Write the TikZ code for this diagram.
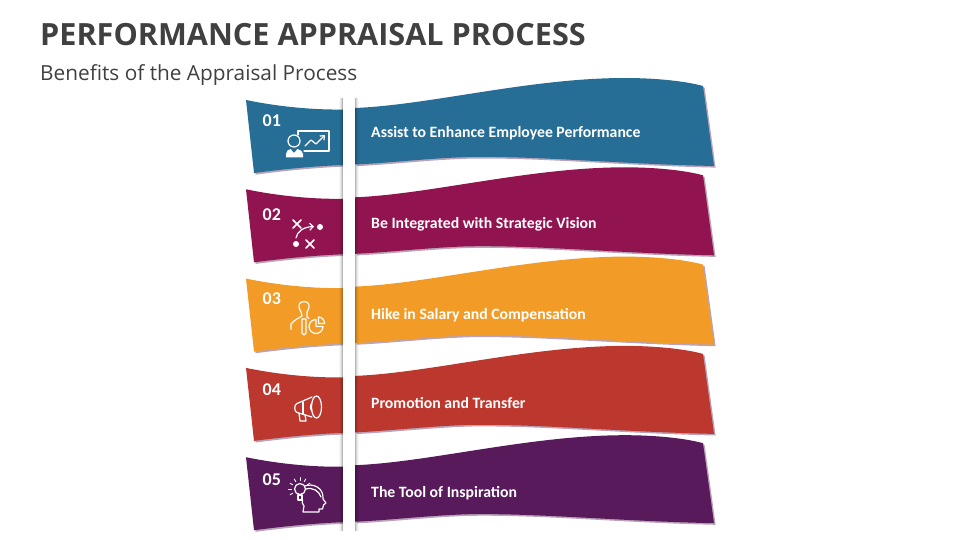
\documentclass[tikz,border=0pt]{standalone}
\usepackage{fontspec}
\setmainfont{Open Sans}
\newfontfamily\barfont{Carlito}
\usetikzlibrary{arrows.meta}
\definecolor{bluebar}{HTML}{266E96}
\definecolor{plumbar}{HTML}{911450}
\definecolor{orangebar}{HTML}{F29C27}
\definecolor{redbar}{HTML}{BC382E}
\definecolor{purplebar}{HTML}{581A5A}
\definecolor{barshade}{HTML}{B9A3B8}
\definecolor{titlegray}{HTML}{404040}
\tikzset{
  bartext/.style={
    anchor=base west,
    inner sep=0pt,
    text=white,
    font=\barfont\bfseries\fontsize{15.75}{18}\selectfont
  },
  barnum/.style={
    anchor=base west,
    inner sep=0pt,
    text=white,
    font=\barfont\bfseries\fontsize{18}{20}\selectfont
  },
  iconline/.style={
    draw=white,
    line width=1.2pt,
    line cap=round,
    line join=round
  },
  ribbon/.pic={
    \fill[barshade,shift={(1.6,1.6)}] (246,100) .. controls (275,106) and (310,110) .. (343,109.5) -- (343,165) .. controls (315,166) and (285,169) .. (254,173) -- cycle;
    \fill[barshade,shift={(1.6,1.6)}] (355,108) .. controls (430,105) and (530,78) .. (625,78) .. controls (655,78) and (685,81) .. (703,86) -- (714,166) .. controls (620,164) and (540,156) .. (470,157) .. controls (430,158) and (390,163) .. (355,164.5) -- cycle;
    \fill[#1] (246,100) .. controls (275,106) and (310,110) .. (343,109.5) -- (343,165) .. controls (315,166) and (285,169) .. (254,173) -- cycle;
    \fill[#1] (355,108) .. controls (430,105) and (530,78) .. (625,78) .. controls (655,78) and (685,81) .. (703,86) -- (714,166) .. controls (620,164) and (540,156) .. (470,157) .. controls (430,158) and (390,163) .. (355,164.5) -- cycle;
  }
}

\begin{document}
\begin{tikzpicture}[x=1pt,y=-1pt]
    \useasboundingbox (0,0) rectangle (960,540);
    \fill[white] (0,0) rectangle (960,540);

    \node[anchor=base west,inner sep=0pt,text=titlegray,font=\bfseries\fontsize{30.6}{36}\selectfont] (title) at (40,45.5) {PERFORMANCE APPRAISAL PROCESS};
    \node[anchor=base west,inner sep=0pt,text=titlegray,font=\fontsize{20.8}{24}\selectfont] (subtitle) at (40,80.5) {Benefits of the Appraisal Process};

    \pic (rowa) at (0,0) {ribbon=bluebar};
    \pic (rowb) at (0,89.3) {ribbon=plumbar};
    \pic (rowc) at (0,178.6) {ribbon=orangebar};
    \pic (rowd) at (0,267.9) {ribbon=redbar};
    \pic (rowe) at (0,357.2) {ribbon=purplebar};

    % white spine with soft edges
    \foreach \d/\o in {0/0.28,1/0.16,2/0.08,3/0.03}{
      \fill[black,opacity=\o] (343-\d-1,98) rectangle (343-\d,531);
      \fill[black,opacity=\o] (355+\d,98) rectangle (355+\d+1,531);
    }
    \fill[white] (343,96) rectangle (355,533);

    \node[barnum] (numa) at (262.5,127) {01};
    \node[barnum] (numb) at (262.5,220) {02};
    \node[barnum] (numc) at (262.5,304) {03};
    \node[barnum] (numd) at (262.5,395) {04};
    \node[barnum] (nume) at (262.5,485) {05};

    \node[bartext] (texta) at (371,138) {Assist to Enhance Employee Performance};
    \node[bartext] (textb) at (371,228) {Be Integrated with Strategic Vision};
    \node[bartext] (textc) at (371,319) {Hike in Salary and Compensation};
    \node[bartext] (textd) at (371,408) {Promotion and Transfer};
    \node[bartext] (texte) at (371,497) {The Tool of Inspiration};

    % icon 01
    \draw[iconline] (298,135) -- (298,131) -- (329,131) -- (329,151) -- (304,151);
    \draw[iconline,-{Straight Barb[length=3.5pt,width=6pt]}] (305,146) -- (311,140) -- (316,144) -- (325,135);
    \draw[iconline] (294,141) circle (6);
    \fill[white] (286,157.5) -- (286,154) .. controls (286,151) and (288,150) .. (290.5,149) -- (294,153) -- (297.5,149) .. controls (300,150) and (303,151) .. (303,154) -- (303,157.5) -- cycle;

    % icon 02
    \draw[iconline,line width=1.7pt] (293,220) -- (301,228) (293,228) -- (301,220);
    \draw[iconline,line width=1.7pt] (306,240) -- (314,248) (306,248) -- (314,240);
    \fill[white] (320,227) circle (3);
    \fill[white] (296,244) circle (3);
    \draw[iconline,-{Straight Barb[length=3.5pt,width=7pt]}] (296,238) .. controls (297,231) and (304,227) .. (314,226.5);

    % icon 03
    \draw[iconline] (291,329.5) -- (291,324) .. controls (294,320) and (299,318) .. (302,316) -- (301,312) .. controls (297,305) and (299,302) .. (304,301.5) .. controls (309,302) and (311,305) .. (307,312) -- (307,317) -- (309,318.5);
    \draw[iconline] (302,319) -- (306,319) -- (306,333) -- (304,335) -- (302,333) -- cycle;
    \draw[iconline] (316,319.5) arc (270:0:7) -- (316,326.5) -- cycle;
    \draw[iconline] (318.5,317) -- (318.5,323.5) -- (324.5,323.5) .. controls (324.5,320) and (322,317) .. (318.5,317) -- cycle;

    % icon 04
    \draw[iconline] (316.5,407) ellipse (5 and 11);
    \draw[iconline] (312,397) -- (297,403.5) .. controls (294,404) and (294,412) .. (297,412.5) -- (312,417);
    \draw[iconline] (299,413) -- (300,421) -- (306,421) -- (305,414.5);
    \draw[iconline] (303,402) -- (303,414);
    \draw[iconline] (312,403) .. controls (310,405) and (310,409) .. (312,411);

    % icon 05
    \draw[iconline] (300,489) circle (5.5);
    \draw[iconline] (298,495) rectangle (302,500);
    \draw[iconline] (305,486) .. controls (312,483) and (324,487) .. (323,499) -- (326,503) -- (323.5,505) -- (322.5,509) -- (319,509) -- (319,512) -- (303,512) -- (304,506) .. controls (302,504) and (302,502) .. (302.5,500);
    \draw[iconline] (306,489) .. controls (313,487) and (319,491) .. (321,497);
    \foreach \a in {-30,-60,-90,-120,-150,-180,-210}{
      \draw[iconline,line width=0.9pt] (300,489) ++(\a:8.5) -- ++(\a:3);
    }
\end{tikzpicture}
\end{document}
